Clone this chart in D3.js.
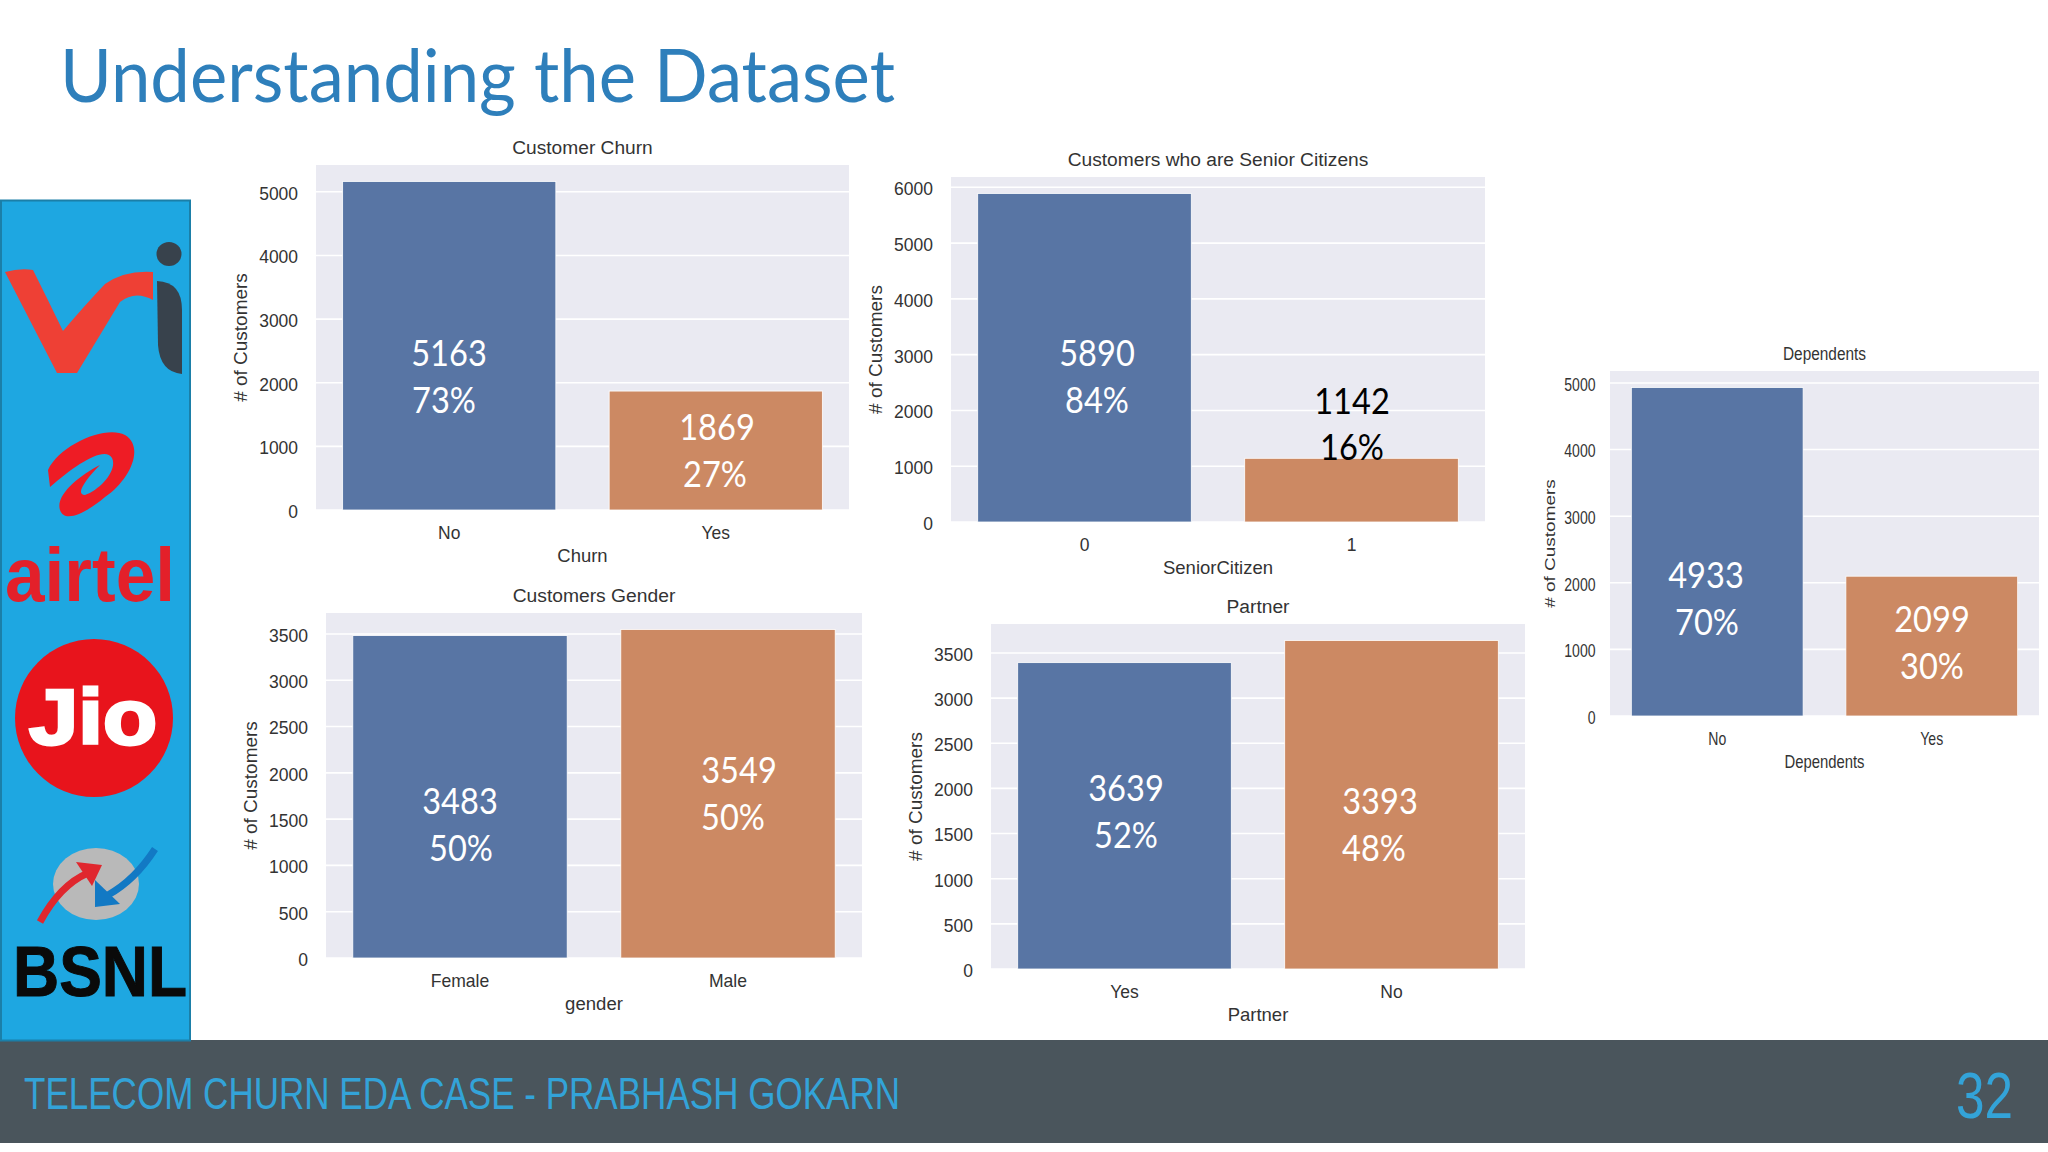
<!DOCTYPE html>
<html>
<head>
<meta charset="utf-8">
<title>Understanding the Dataset</title>
<script src="https://cdn.jsdelivr.net/npm/d3@7"></script>
<style>
    html, body { margin: 0; padding: 0; background: #fff; }
    svg { display: block; }
    text { font-family: "Liberation Sans", Arial, sans-serif; }
    .domain { display: none; }
</style>
</head>
<body>
<svg id="slide" width="2048" height="1152"></svg>
<script>
// values
var churnCategories = ["No", "Yes"];
var churnValues = [5163, 1869];
var churnLabels = [["5163", "73%"], ["1869", "27%"]];
var churnTicks = [0, 1000, 2000, 3000, 4000, 5000];

var seniorCategories = ["0", "1"];
var seniorValues = [5890, 1142];
var seniorLabels = [["5890", "84%"], ["1142", "16%"]];
var seniorTicks = [0, 1000, 2000, 3000, 4000, 5000, 6000];

var genderCategories = ["Female", "Male"];
var genderValues = [3483, 3549];
var genderLabels = [["3483", "50%"], ["3549", "50%"]];
var genderTicks = [0, 500, 1000, 1500, 2000, 2500, 3000, 3500];

// the slide prints the two partner numbers on the opposite bars, kept as is
var partnerCategories = ["Yes", "No"];
var partnerValues = [3393, 3639];
var partnerLabels = [["3639", "52%"], ["3393", "48%"]];
var partnerTicks = [0, 500, 1000, 1500, 2000, 2500, 3000, 3500];

var dependentsCategories = ["No", "Yes"];
var dependentsValues = [4933, 2099];
var dependentsLabels = [["4933", "70%"], ["2099", "30%"]];
var dependentsTicks = [0, 1000, 2000, 3000, 4000, 5000];

var barColors = ["#5875a4", "#cc8963"];
var PLOT_W = 534;
var PLOT_H = 345;

var svg = d3.select("#slide");

var drawChart = function(c) {
    var sx = c.width / PLOT_W;
    var g = svg.append("g")
        .attr("transform", "translate(" + c.left + "," + c.top + ") scale(" + sx + ",1)");

    // seaborn layout: bars 0.8 wide, 0.1 left over on the outside
    var x = d3.scaleBand().domain(c.categories).range([0, PLOT_W]).paddingInner(0.2).paddingOuter(0.1);
    var y = d3.scaleLinear().domain([0, d3.max(c.values) * 1.05]).range([PLOT_H, 0]);

    g.append("rect")
        .attr("width", PLOT_W)
        .attr("height", PLOT_H)
        .attr("fill", "#eaeaf2");

    g.selectAll(".grid")
        .data(c.ticks)
        .enter().append("line")
        .attr("class", "grid")
        .attr("x1", 0)
        .attr("x2", PLOT_W)
        .attr("y1", function(d) { return y(d); })
        .attr("y2", function(d) { return y(d); })
        .attr("stroke", "#fff")
        .attr("stroke-width", 1.6);

    g.selectAll(".bar")
        .data(c.values)
        .enter().append("rect")
        .attr("class", "bar")
        .attr("x", function(d, i) { return x(c.categories[i]); })
        .attr("y", function(d) { return y(d); })
        .attr("width", x.bandwidth())
        .attr("height", function(d) { return PLOT_H - y(d); })
        .attr("fill", function(d, i) { return barColors[i]; })
        .attr("stroke", "#fff")
        .attr("stroke-width", 0.8);

    var yAxis = g.append("g")
        .call(d3.axisLeft(y).tickValues(c.ticks).tickFormat(d3.format("d")).tickSize(0).tickPadding(18));
    var xAxis = g.append("g")
        .attr("transform", "translate(0," + PLOT_H + ")")
        .call(d3.axisBottom(x).tickSize(0).tickPadding(17));

    yAxis.selectAll("text").attr("font-size", 17.5).attr("fill", "#333").attr("dy", "0.42em");
    xAxis.selectAll("text").attr("font-size", 17.5).attr("fill", "#333");

    g.append("text")
        .attr("x", PLOT_W / 2)
        .attr("y", -11)
        .attr("text-anchor", "middle")
        .attr("font-size", 19.2)
        .attr("fill", "#333")
        .text(c.title);

    g.append("text")
        .attr("x", PLOT_W / 2)
        .attr("y", PLOT_H + 52)
        .attr("text-anchor", "middle")
        .attr("font-size", 18.5)
        .attr("fill", "#333")
        .text(c.xLabel);

    g.append("text")
        .attr("transform", "translate(-69," + (PLOT_H / 2) + ") rotate(-90)")
        .attr("text-anchor", "middle")
        .attr("font-size", 19)
        .attr("fill", "#333")
        .text("# of Customers");

    // the number and percent boxes were placed by hand on the slide
    c.labels.forEach(function(pair, i) {
        pair.forEach(function(str, j) {
            var spot = c.spots[i][j];
            svg.append("text")
                .attr("transform", "translate(" + spot[0] + "," + spot[1] + ") scale(0.88,1)")
                .attr("text-anchor", "middle")
                .style("font-family", "Lato")
                .attr("font-size", 37)
                .attr("fill", c.labelColors[i])
                .text(str);
        });
    });
};

drawChart({
    title: "Customer Churn", xLabel: "Churn",
    categories: churnCategories, values: churnValues, labels: churnLabels, ticks: churnTicks,
    left: 316, top: 165, width: 533,
    labelColors: ["#fff", "#fff"],
    spots: [[[449, 366], [444, 413]], [[717, 440], [715, 487]]]
});
drawChart({
    title: "Customers who are Senior Citizens", xLabel: "SeniorCitizen",
    categories: seniorCategories, values: seniorValues, labels: seniorLabels, ticks: seniorTicks,
    left: 951, top: 177, width: 534,
    labelColors: ["#fff", "#000"],
    spots: [[[1097, 366], [1097, 413]], [[1352, 414], [1352, 460]]]
});
drawChart({
    title: "Customers Gender", xLabel: "gender",
    categories: genderCategories, values: genderValues, labels: genderLabels, ticks: genderTicks,
    left: 326, top: 613, width: 536,
    labelColors: ["#fff", "#fff"],
    spots: [[[460, 814], [461, 861]], [[739, 783], [733, 830]]]
});
drawChart({
    title: "Partner", xLabel: "Partner",
    categories: partnerCategories, values: partnerValues, labels: partnerLabels, ticks: partnerTicks,
    left: 991, top: 624, width: 534,
    labelColors: ["#fff", "#fff"],
    spots: [[[1126, 801], [1126, 848]], [[1380, 814], [1374, 861]]]
});
drawChart({
    title: "Dependents", xLabel: "Dependents",
    categories: dependentsCategories, values: dependentsValues, labels: dependentsLabels, ticks: dependentsTicks,
    left: 1610, top: 371, width: 429,
    labelColors: ["#fff", "#fff"],
    spots: [[[1706, 588], [1707, 635]], [[1932, 632], [1932, 679]]]
});

// ==================================
// slide furniture

svg.append("text")
    .attr("x", 60)
    .attr("y", 102)
    .style("font-family", "Lato")
    .attr("font-size", 73)
    .attr("fill", "#2e7fbb")
    .attr("textLength", 835)
    .attr("lengthAdjust", "spacingAndGlyphs")
    .text("Understanding the Dataset");

svg.append("rect")
    .attr("x", 0).attr("y", 1040).attr("width", 2048).attr("height", 103)
    .attr("fill", "#4a555c");

svg.append("text")
    .attr("x", 24)
    .attr("y", 1109)
    .attr("font-size", 45)
    .attr("fill", "#33a3d8")
    .attr("textLength", 876)
    .attr("lengthAdjust", "spacingAndGlyphs")
    .text("TELECOM CHURN EDA CASE - PRABHASH GOKARN");

svg.append("text")
    .attr("x", 1956)
    .attr("y", 1118)
    .attr("font-size", 64)
    .attr("fill", "#33a3d8")
    .attr("textLength", 57)
    .attr("lengthAdjust", "spacingAndGlyphs")
    .text("32");

// logo strip
var logos = svg.append("g");

logos.append("rect")
    .attr("x", 1).attr("y", 200.5).attr("width", 189).attr("height", 840)
    .attr("fill", "#1ea7e1")
    .attr("stroke", "#1b7fa8")
    .attr("stroke-width", 2);

// vi
logos.append("path")
    .attr("d", "M5,272 Q20,268 33,270 Q48,300 63,331 Q85,305 105,284 Q125,270 153,272 L153,300 Q135,290 120,302 L77,373 L57,373 Z")
    .attr("fill", "#ee4035");
logos.append("ellipse")
    .attr("cx", 169).attr("cy", 254).attr("rx", 12.5).attr("ry", 12)
    .attr("fill", "#38424c");
logos.append("path")
    .attr("d", "M157,281 Q182,282 182,310 L182,374 Q160,372 158,345 Z")
    .attr("fill", "#38424c");

// airtel
logos.append("path")
    .attr("d", "M48,470 C60,445 105,425 125,435 C145,447 130,480 105,497 C90,510 65,525 60,510 C55,495 80,475 100,465 C85,480 75,495 85,495 C100,490 118,470 112,458 C105,445 75,465 50,487 Z")
    .attr("fill", "#ee1c25");
logos.append("text")
    .attr("x", 5)
    .attr("y", 601)
    .attr("font-weight", 700)
    .attr("font-size", 76)
    .attr("fill", "#e3202a")
    .attr("textLength", 170)
    .attr("lengthAdjust", "spacingAndGlyphs")
    .text("airtel");

// jio
logos.append("circle")
    .attr("cx", 94).attr("cy", 718).attr("r", 79)
    .attr("fill", "#e8141c");
logos.append("text")
    .attr("x", 29)
    .attr("y", 744)
    .attr("font-weight", 700)
    .attr("font-size", 78)
    .attr("fill", "#fff")
    .attr("stroke", "#fff")
    .attr("stroke-width", 3)
    .attr("textLength", 128)
    .attr("lengthAdjust", "spacingAndGlyphs")
    .text("Jio");

// bsnl
logos.append("ellipse")
    .attr("cx", 96).attr("cy", 884).attr("rx", 43).attr("ry", 36)
    .attr("fill", "#b9b9b9");
logos.append("path")
    .attr("d", "M40,922 Q60,885 88,873")
    .attr("fill", "none").attr("stroke", "#e0272e").attr("stroke-width", 7);
logos.append("path")
    .attr("d", "M76,862 L102,865 L92,886 Z")
    .attr("fill", "#e0272e");
logos.append("path")
    .attr("d", "M155,849 Q135,880 108,895")
    .attr("fill", "none").attr("stroke", "#1279c4").attr("stroke-width", 7);
logos.append("path")
    .attr("d", "M95,880 L95,907 L120,904 Z")
    .attr("fill", "#1279c4");
logos.append("text")
    .attr("x", 13)
    .attr("y", 996)
    .attr("font-weight", 700)
    .attr("font-size", 70)
    .attr("fill", "#0a0a0a")
    .attr("stroke", "#0a0a0a")
    .attr("textLength", 174)
    .attr("lengthAdjust", "spacingAndGlyphs")
    .text("BSNL");
</script>
</body>
</html>
